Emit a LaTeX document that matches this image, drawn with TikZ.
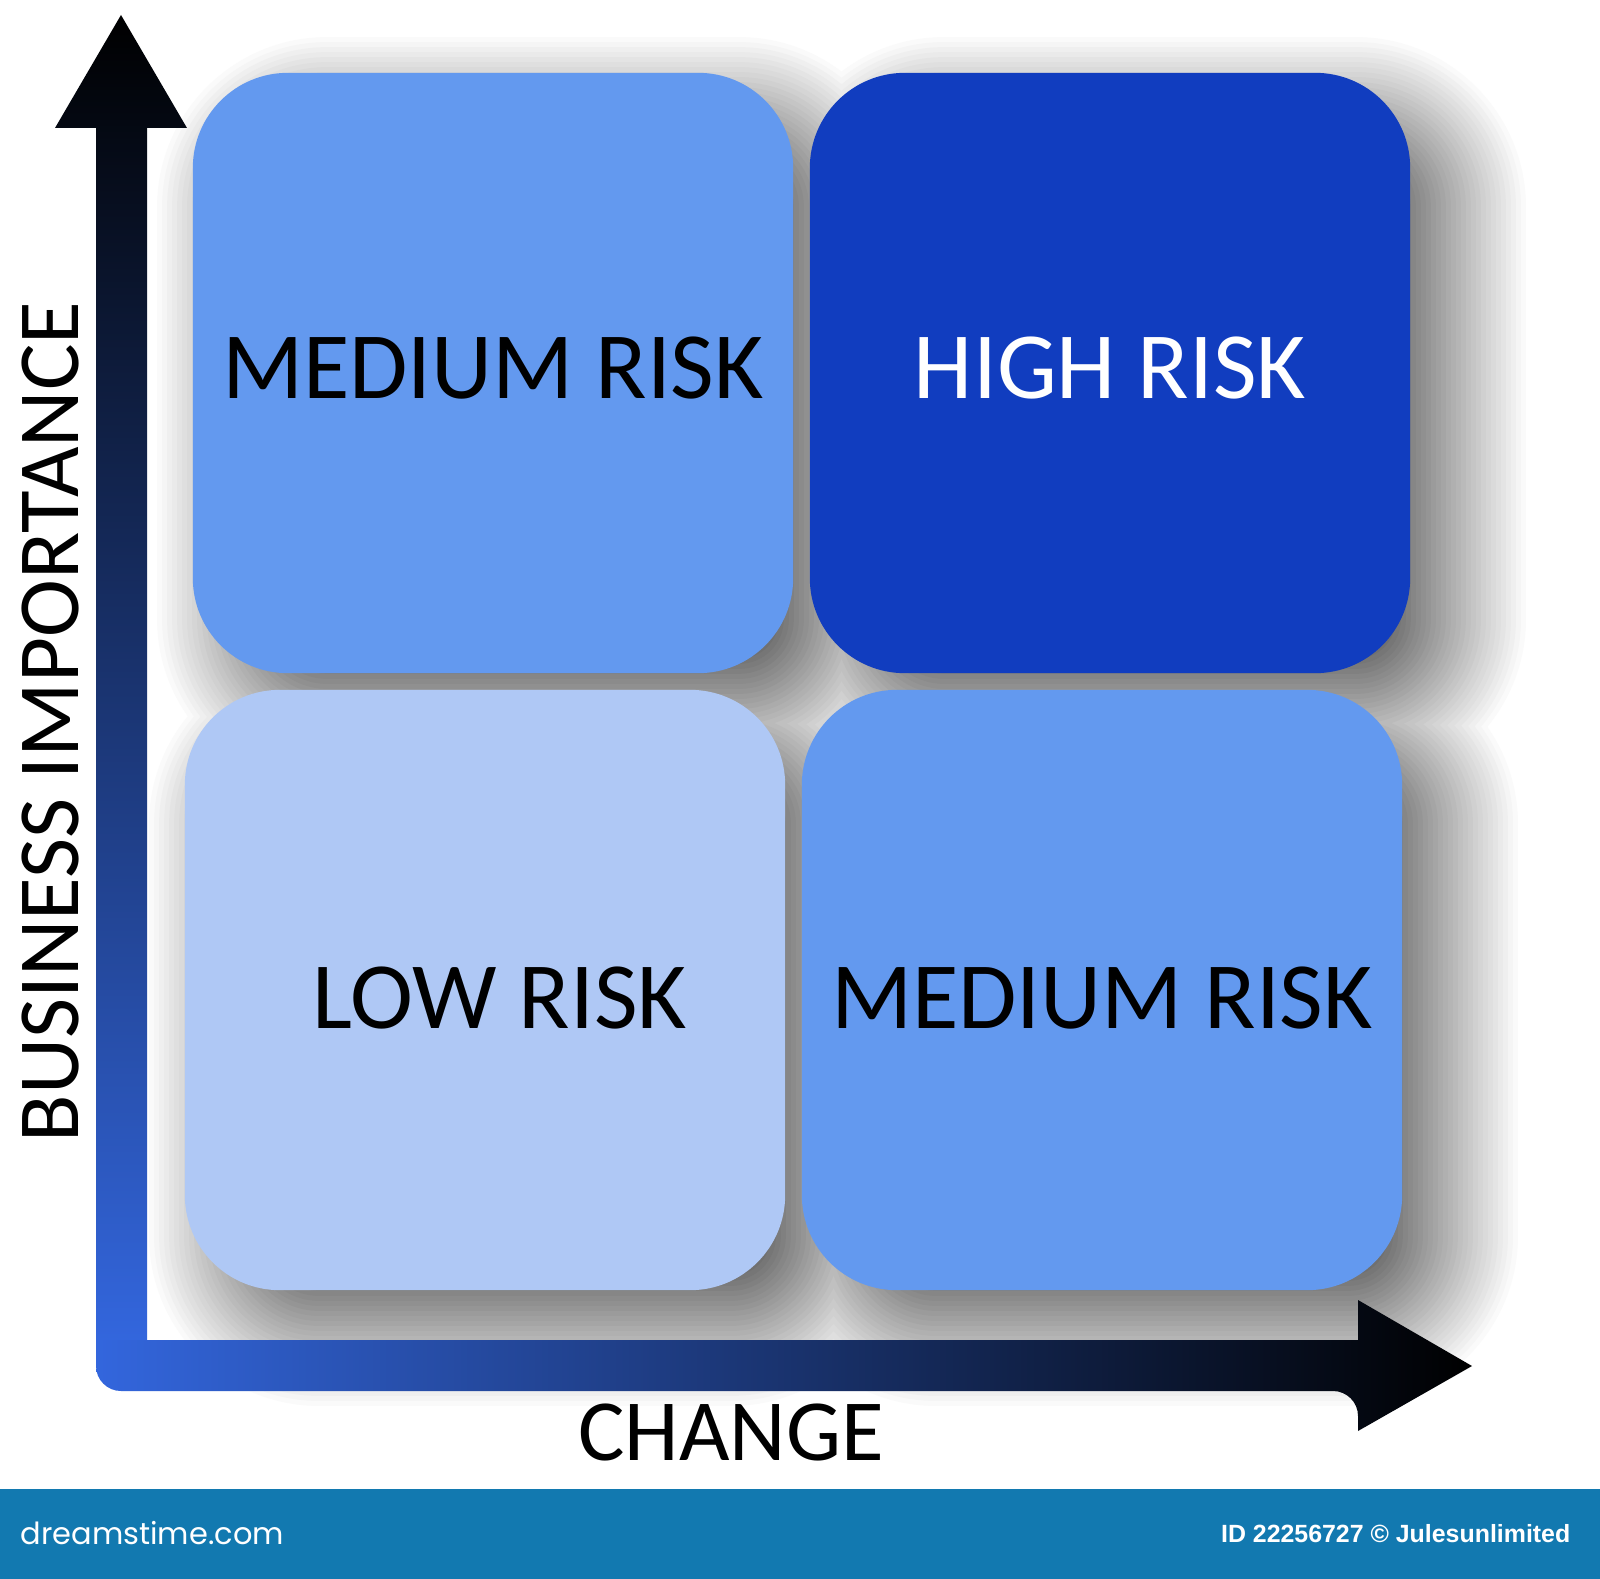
\documentclass[tikz,border=0pt]{standalone}
\usepackage{fontspec}
\setmainfont{Carlito}
\newfontfamily\logofont{Poppins}
\newfontfamily\idfont{Liberation Sans}
\definecolor{medblue}{RGB}{99,153,239}
\definecolor{highblue}{RGB}{17,61,191}
\definecolor{lowblue}{RGB}{175,200,245}
\definecolor{bannerblue}{RGB}{18,121,176}
\definecolor{axblue}{RGB}{51,102,221}
\pgfdeclarelayer{bg}
\pgfdeclarelayer{shadow}
\pgfsetlayers{bg,shadow,main}
\tikzset{
  riskbox/.style={draw=none, minimum width=6cm, minimum height=6cm,
    rounded corners=0.95cm, inner sep=0pt},
  risklabel/.style={font=\fontsize{27}{30}\selectfont, inner sep=0pt},
  axislabel/.style={font=\fontsize{24.8}{28}\selectfont, inner sep=0pt, text=black}
}
\begin{document}
\begin{tikzpicture}[x=0.01cm,y=-0.01cm]
\useasboundingbox (0,0) rectangle (1600,1579);
\begin{pgfonlayer}{bg}
\fill[white] (0,0) rectangle (1600,1579);
\end{pgfonlayer}

% boxes
\node[riskbox, fill=medblue] (tl) at (493,373) {};
\node[riskbox, fill=highblue] (tr) at (1110,373) {};
\node[riskbox, fill=lowblue] (bl) at (485,990) {};
\node[riskbox, fill=medblue] (br) at (1102,990) {};

% soft drop shadows (opaque grey layers, outer to inner, so overlaps do not darken)
\begin{pgfonlayer}{shadow}
\foreach \i in {0,...,27}{
  \pgfmathsetmacro\d{75-5*\i}
  \pgfmathsetmacro\rr{(95+\d)/100}
  \pgfmathsetmacro\ax{(40-\d)/100}
  \pgfmathsetmacro\ay{-(40+\d)/100}
  \pgfmathsetmacro\bx{(40+\d)/100}
  \pgfmathsetmacro\by{(\d-40)/100}
  \pgfmathsetmacro\p{58*(\i+1)/28}
  \foreach \n in {tl,tr,bl,br}{
    \fill[black!\p, rounded corners=\rr cm]
      ([xshift=\ax cm, yshift=\ay cm]\n.south west) rectangle
      ([xshift=\bx cm, yshift=\by cm]\n.north east);
  }
}
\end{pgfonlayer}

\node[risklabel, text=black] (tlt) at ([yshift=0.05cm]tl.center) {MEDIUM RISK};
\node[risklabel, text=white] (trt) at ([yshift=0.05cm]tr.center) {HIGH RISK};
\node[risklabel, text=black] (blt) at ([xshift=0.15cm, yshift=-0.08cm]bl.center) {LOW RISK};
\node[risklabel, text=black] (brt) at ([yshift=-0.08cm]br.center) {MEDIUM RISK};

% horizontal axis arrow
\path[left color=axblue, right color=black]
  (1358,1340) -- (96,1340) [rounded corners=0.25cm] -- (96,1391) -- (1358,1391) [sharp corners]
  -- (1358,1431) -- (1472,1366) -- (1358,1300) -- cycle;
% vertical axis arrow
\path[top color=black, bottom color=axblue]
  (96,1340) -- (96,128) -- (55,128) -- (121,15) -- (187,128) -- (147,128) -- (147,1340) -- cycle;

% axis labels
\node[axislabel, rotate=90] (ylab) at (51,722) {BUSINESS IMPORTANCE};
\node[axislabel] (xlab) at (731,1432) {CHANGE};

% banner
\fill[bannerblue] (0,1489) rectangle (1600,1579);
\node[anchor=west, text=white, inner sep=0pt] (logo) at (20,1533)
  {\resizebox{2.63cm}{!}{\logofont dreamstime.com}};
\node[anchor=east, text=white, inner sep=0pt] (idtxt) at (1571,1534)
  {\resizebox{3.49cm}{!}{\idfont\bfseries ID 22256727 © Julesunlimited}};
\end{tikzpicture}
\end{document}
